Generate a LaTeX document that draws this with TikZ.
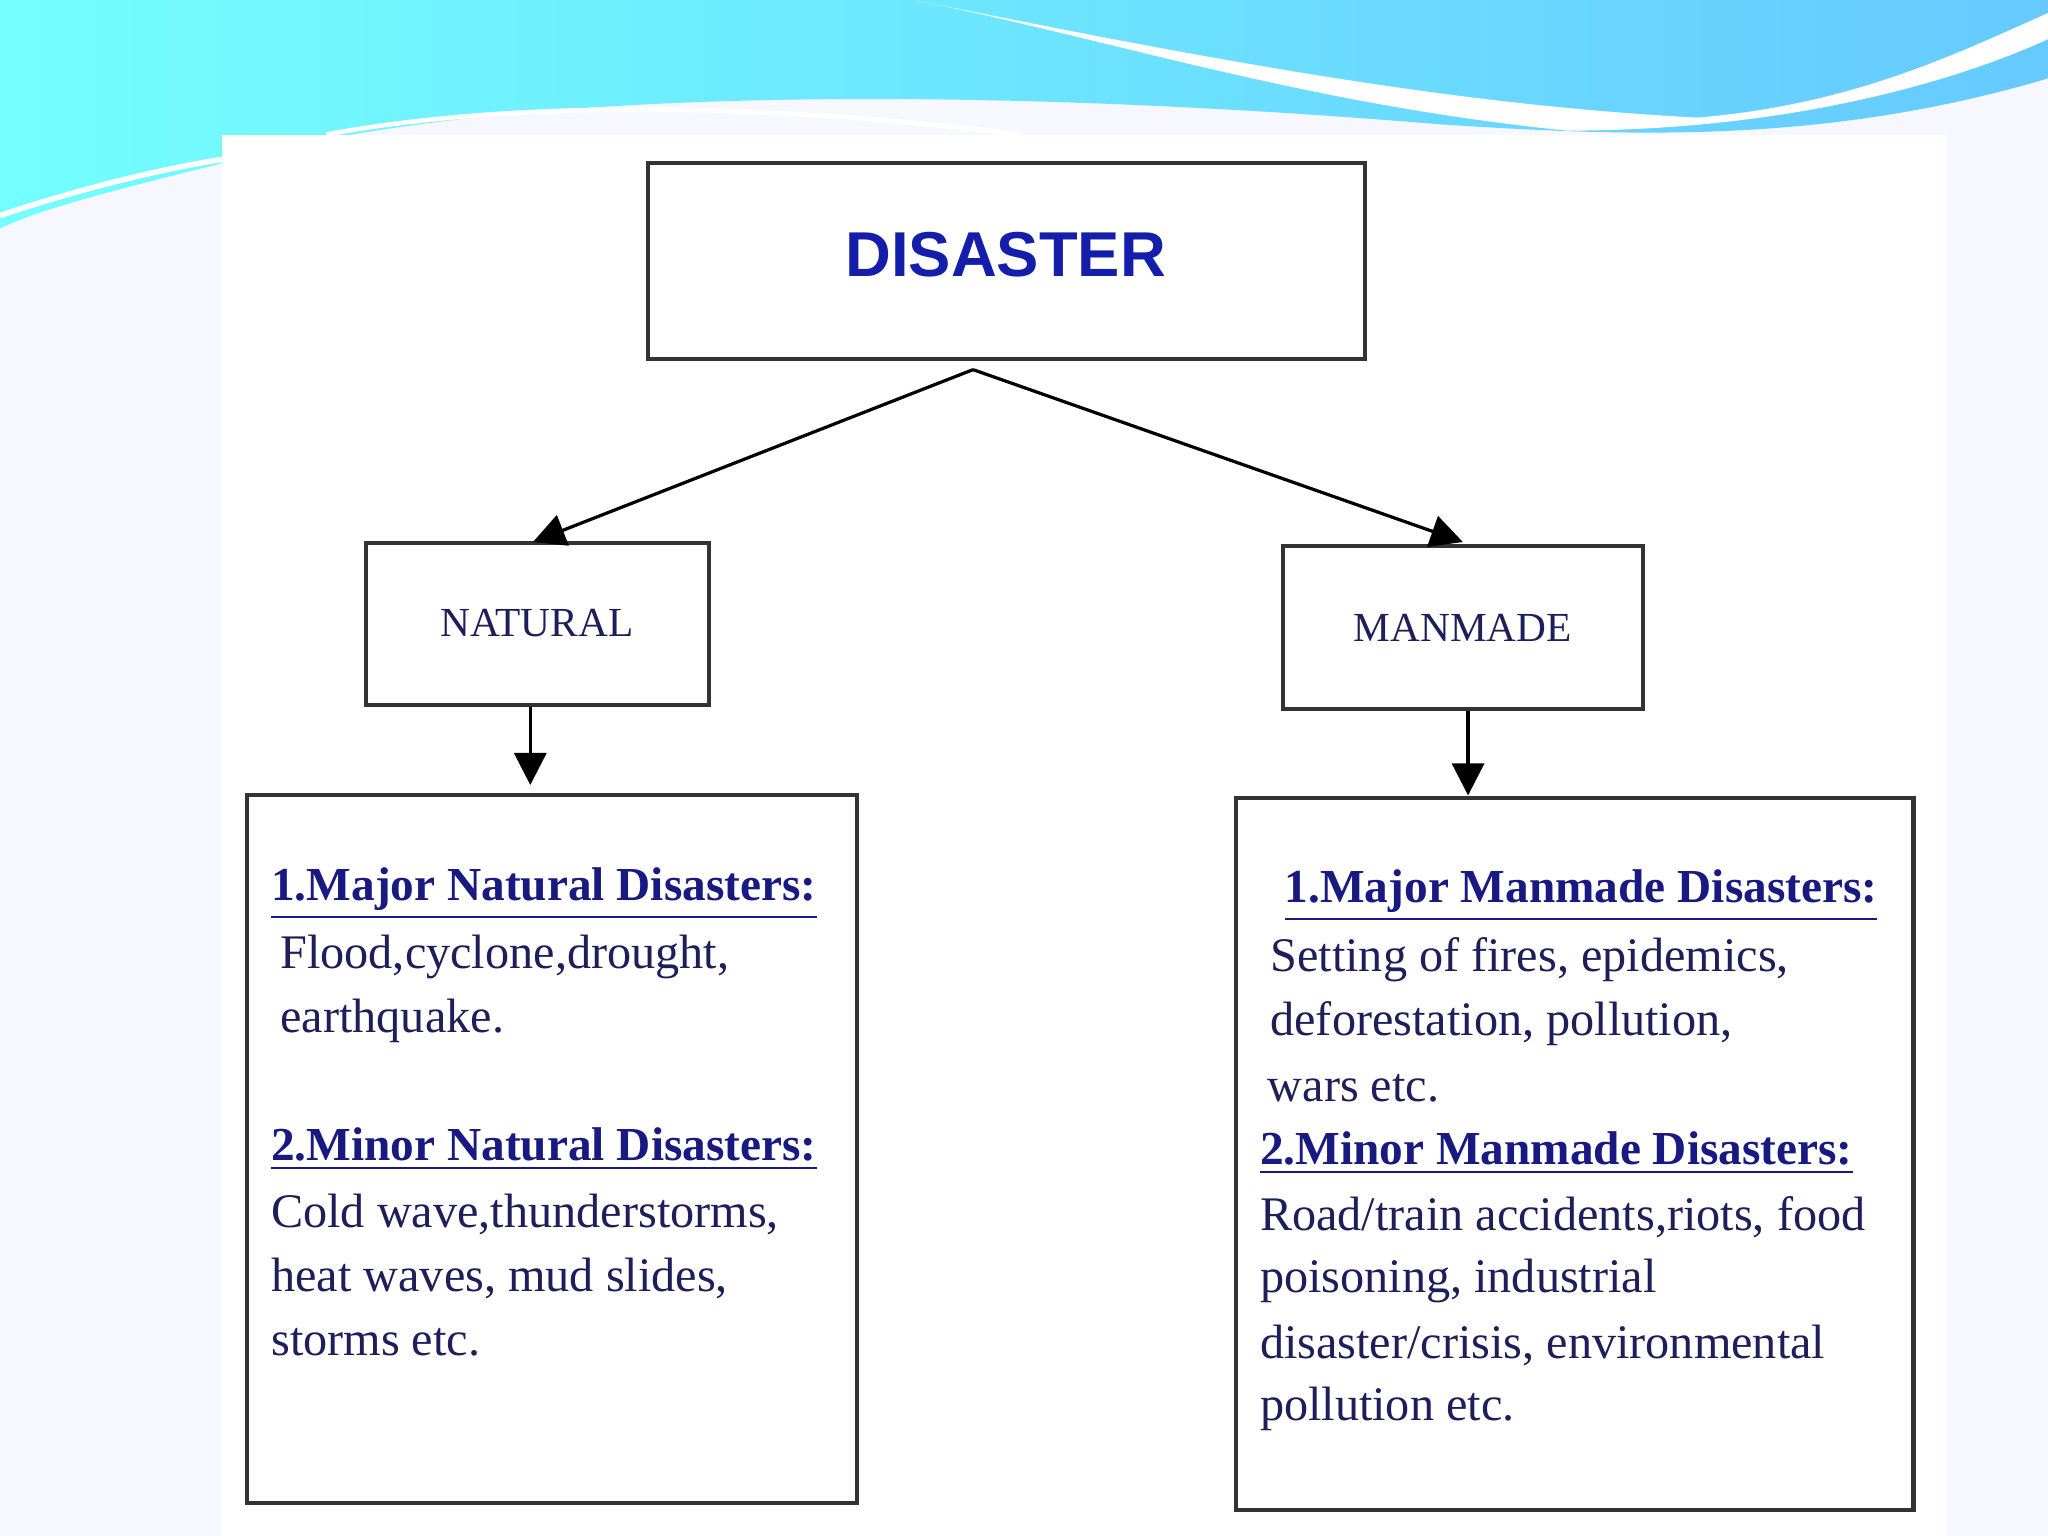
\documentclass[tikz,border=0pt]{standalone}
\usepackage{fontspec}
\setmainfont{Liberation Serif}
\newfontfamily\hsans{Liberation Sans}
\usetikzlibrary{arrows.meta}
\definecolor{navy}{RGB}{30,30,90}
\definecolor{headblue}{RGB}{25,25,130}
\definecolor{disblue}{RGB}{20,30,170}
\tikzset{
 box/.style={draw=black!80,line width=0.9pt},
 arr/.style={draw=black,line width=0.7pt,-{Triangle[length=7pt,width=7pt]}},
 ln/.style={anchor=west,text=navy,font=\fontsize{10.5}{12}\selectfont,inner sep=0pt},
 hd/.style={anchor=west,text=headblue,font=\fontsize{10.3}{12}\selectfont\bfseries,inner sep=0pt},
}
\newcommand{\ul}[1]{\underline{#1}}
\begin{document}
\begin{tikzpicture}[x=0.01cm,y=-0.01cm]
\useasboundingbox (0,0) rectangle (1568,1176);
\fill[blue!3!white] (0,0) rectangle (1568,1176);
% top wave band
\shade[left color=cyan!55!white,right color=blue!35!cyan!60!white] (0,0) -- (1568,0) -- (1568,60) .. controls (1400,110) and (1250,105) .. (1100,95) .. controls (800,70) and (400,60) .. (170,125) .. controls (90,145) and (30,160) .. (0,175) -- cycle;
\fill[white] (700,0) .. controls (900,40) and (1100,80) .. (1300,90) .. controls (1420,80) and (1500,40) .. (1568,10) -- (1568,30) .. controls (1480,70) and (1350,100) .. (1200,100) .. controls (1000,80) and (850,30) .. (700,0);
\draw[white,line width=1.2pt] (0,165) .. controls (60,145) and (120,130) .. (170,122);
\draw[white,line width=1pt] (250,103) .. controls (400,75) and (600,80) .. (780,103);
\fill[white] (170,103) rectangle (1490,1176);
% boxes
\draw[box] (496,125) rectangle (1045,275);
\node[text=disblue,font=\hsans\fontsize{13.8}{16}\selectfont\bfseries] (dis) at (770,195) {DISASTER};
\coordinate (top) at (745,283);
\draw[box] (280,416) rectangle (543,540);
\node[text=navy,font=\fontsize{9}{11}\selectfont] (nat) at (411,477) {NATURAL};
\draw[box] (982,418) rectangle (1258,543);
\node[text=navy,font=\fontsize{9}{11}\selectfont] (man) at (1120,481) {MANMADE};
\draw[box] (189,609) rectangle (656,1151);
\draw[box] (946,611) rectangle (1465,1156);
\coordinate (natT) at (408,415);
\coordinate (manT) at (1120,415);
\coordinate (natB) at (406,541);
\coordinate (lbT) at (406,601);
\coordinate (manB) at (1124,544);
\coordinate (rbT) at (1124,609);
\draw[arr] (top) -- (natT);
\draw[arr] (top) -- (manT);
\draw[arr] (natB) -- (lbT);
\draw[arr] (manB) -- (rbT);
% left text
\node[hd] at (207,684) {\ul{1.Major Natural Disasters:}};
\node[ln] at (214,733) {Flood,cyclone,drought,};
\node[ln] at (214,782) {earthquake.};
\node[hd] at (207,880) {\ul{2.Minor Natural Disasters:}};
\node[ln] at (207,930) {Cold wave,thunderstorms,};
\node[ln] at (207,979) {heat waves, mud slides,};
\node[ln] at (207,1028) {storms etc.};
% right text
\node[hd] at (983,686) {\ul{1.Major Manmade Disasters:}};
\node[ln] at (972,735) {Setting of fires, epidemics,};
\node[ln] at (972,784) {deforestation, pollution,};
\node[ln] at (970,833) {wars etc.};
\node[hd] at (964,883) {\ul{2.Minor Manmade Disasters:}};
\node[ln] at (964,932) {Road/train accidents,riots, food};
\node[ln] at (964,981) {poisoning, industrial};
\node[ln] at (964,1030) {disaster/crisis, environmental};
\node[ln] at (964,1079) {pollution etc.};
\end{tikzpicture}
\end{document}
